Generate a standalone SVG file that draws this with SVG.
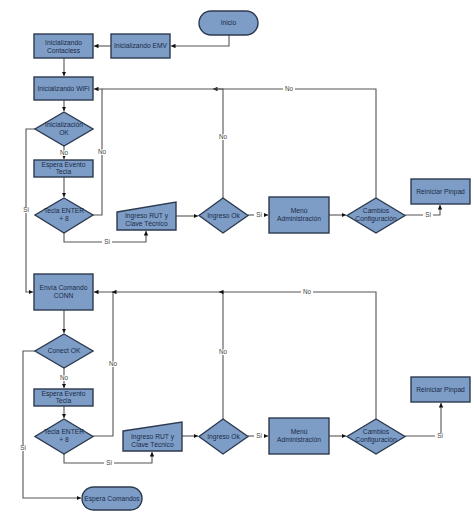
<svg xmlns="http://www.w3.org/2000/svg" width="474" height="518" viewBox="0 0 474 518">
<defs>
<marker id="arr" viewBox="0 0 8 8" refX="8" refY="4" markerWidth="4.5" markerHeight="4.5" orient="auto" markerUnits="userSpaceOnUse"><path d="M0,0 L8,4 L0,8 Z" fill="#111"/></marker>
<style>
.n{fill:#7d9dc6;stroke:#2c3a4f;stroke-width:1.4}
.t{font-family:"Liberation Sans",Arial,sans-serif;font-size:6.7px;fill:#1b2b48;text-anchor:middle}
.c{fill:none;stroke:#555;stroke-width:1.1}
.a{marker-end:url(#arr)}
.l{font-family:"Liberation Sans",Arial,sans-serif;font-size:6.3px;fill:#444;text-anchor:middle}
.lb{fill:#fff}
</style>
</defs>
<rect width="474" height="518" fill="#fff"/>

<g id="connectors">
<!-- top -->
<path class="c a" d="M229,35 V46 H171"/>
<path class="c a" d="M111,46 H94"/>
<path class="c a" d="M64,58 V76"/>
<path class="c a" d="M64,100 V111"/>
<path class="c a" d="M64,146 V159"/>
<path class="c a" d="M64,177 V197"/>
<path class="c a" d="M93,215 H102 V89 H94"/>
<path class="c a" d="M376,198 V89 H213"/>
<path class="c" d="M223,198 V89 H102"/>
<path class="c a" d="M35,129 H26 V292 H33"/>
<path class="c a" d="M64,233 V242 H146 V231"/>
<path class="c a" d="M176,216 H198"/>
<path class="c a" d="M248,215 H268"/>
<path class="c a" d="M329,215 H346"/>
<path class="c a" d="M405,215 H440 V205"/>
<!-- bottom -->
<path class="c a" d="M64,310 V333"/>
<path class="c a" d="M64,368 V388"/>
<path class="c a" d="M64,406 V418"/>
<path class="c a" d="M93,436 H113 V292 H94"/>
<path class="c a" d="M223,419 V292 H112"/>
<path class="c a" d="M376,419 V292 H219"/>
<path class="c a" d="M35,351 H23 V498 H81"/>
<path class="c a" d="M64,454 V463 H152 V452"/>
<path class="c a" d="M182,436 H198"/>
<path class="c a" d="M248,436 H268"/>
<path class="c a" d="M329,436 H346"/>
<path class="c a" d="M405,436 H441 V403"/>
<!-- labels -->
<rect class="lb" x="283" y="86" width="12" height="6"/><text class="l" x="289" y="91.2">No</text>
<rect class="lb" x="96" y="149" width="12" height="6"/><text class="l" x="102" y="154.2">No</text>
<rect class="lb" x="58" y="150" width="12" height="6"/><text class="l" x="64" y="155.2">No</text>
<rect class="lb" x="217" y="134" width="12" height="6"/><text class="l" x="223" y="139.2">No</text>
<rect class="lb" x="21" y="207" width="10" height="6"/><text class="l" x="26" y="212.2">Si</text>
<rect class="lb" x="102" y="239" width="10" height="6"/><text class="l" x="107" y="244.2">Si</text>
<rect class="lb" x="254" y="212" width="10" height="6"/><text class="l" x="259" y="217.2">Si</text>
<rect class="lb" x="423" y="212" width="10" height="6"/><text class="l" x="428" y="217.2">Si</text>
<rect class="lb" x="301" y="289" width="12" height="6"/><text class="l" x="307" y="294.2">No</text>
<rect class="lb" x="107" y="361" width="12" height="6"/><text class="l" x="113" y="366.2">No</text>
<rect class="lb" x="58" y="375" width="12" height="6"/><text class="l" x="64" y="380.2">No</text>
<rect class="lb" x="217" y="349" width="12" height="6"/><text class="l" x="223" y="354.2">No</text>
<rect class="lb" x="18" y="445" width="10" height="6"/><text class="l" x="23" y="450.2">Si</text>
<rect class="lb" x="104" y="460" width="10" height="6"/><text class="l" x="109" y="465.2">Si</text>
<rect class="lb" x="254" y="433" width="10" height="6"/><text class="l" x="259" y="438.2">Si</text>
<rect class="lb" x="435" y="433" width="10" height="6"/><text class="l" x="440" y="438.2">Si</text>
</g>

<g id="inicio"><rect class="n" x="199" y="11" width="59" height="24" rx="12"/><text class="t" x="228.5" y="25.4">Inicio</text></g>
<g id="emv"><rect class="n" x="111" y="34" width="59" height="24"/><text class="t" x="140.5" y="48.4">Inicializando EMV</text></g>
<g id="contacless"><rect class="n" x="34" y="34" width="59" height="24"/><text class="t" x="63.5" y="44.5">Inicializando</text><text class="t" x="63.5" y="52.5">Contacless</text></g>
<g id="wifi"><rect class="n" x="34" y="77" width="59" height="23"/><text class="t" x="63.5" y="90.9">Inicializando WiFi</text></g>
<g id="init-ok"><path class="n" d="M64,112 L93,129 L64,146 L35,129 Z"/><text class="t" x="64" y="126.6">Inicialización</text><text class="t" x="64" y="134.6">OK</text></g>
<g id="espera1"><rect class="n" x="34" y="160" width="59" height="17"/><text class="t" x="63.5" y="166.6">Espera Evento</text><text class="t" x="63.5" y="174.4">Tecla</text></g>
<g id="tecla1"><path class="n" d="M64,198 L93,215 L64,233 L35,215 Z"/><text class="t" x="64" y="213">Tecla ENTER</text><text class="t" x="64" y="221">+ 8</text></g>
<g id="rut1"><path class="n" d="M117,212 L176,202 L176,230 L117,230 Z"/><text class="t" x="146.5" y="218.4">Ingreso RUT y</text><text class="t" x="146.5" y="226.4">Clave Técnico</text></g>
<g id="ingok1"><path class="n" d="M223,198 L248,215.5 L223,233 L199,215.5 Z"/><text class="t" x="223.5" y="217.8">Ingreso Ok</text></g>
<g id="menu1"><rect class="n" x="269" y="197" width="60" height="36"/><text class="t" x="299" y="213">Menú</text><text class="t" x="299" y="221">Administración</text></g>
<g id="cambios1"><path class="n" d="M376,198 L405,215.5 L376,233 L347,215.5 Z"/><text class="t" x="376" y="213">Cambios</text><text class="t" x="376" y="221">Configuración</text></g>
<g id="reiniciar1"><rect class="n" x="411" y="179" width="59" height="25"/><text class="t" x="440.5" y="193.8">Reiniciar Pinpad</text></g>

<g id="conn"><rect class="n" x="34" y="274" width="59" height="36"/><text class="t" x="63.5" y="290">Envía Comando</text><text class="t" x="63.5" y="298">CONN</text></g>
<g id="conect-ok"><path class="n" d="M64,334 L93,351 L64,368 L35,351 Z"/><text class="t" x="64" y="353.4">Conect OK</text></g>
<g id="espera2"><rect class="n" x="34" y="389" width="59" height="17"/><text class="t" x="63.5" y="395.6">Espera Evento</text><text class="t" x="63.5" y="403.4">Tecla</text></g>
<g id="tecla2"><path class="n" d="M64,419 L93,436.5 L64,454 L35,436.5 Z"/><text class="t" x="64" y="434">Tecla ENTER</text><text class="t" x="64" y="442">+ 8</text></g>
<g id="rut2"><path class="n" d="M123,431 L182,422 L182,451 L123,451 Z"/><text class="t" x="152.5" y="438.6">Ingreso RUT y</text><text class="t" x="152.5" y="446.6">Clave Técnico</text></g>
<g id="ingok2"><path class="n" d="M223,419 L248,436.5 L223,454 L199,436.5 Z"/><text class="t" x="223.5" y="438.8">Ingreso Ok</text></g>
<g id="menu2"><rect class="n" x="269" y="418" width="60" height="36"/><text class="t" x="299" y="434">Menú</text><text class="t" x="299" y="442">Administración</text></g>
<g id="cambios2"><path class="n" d="M376,419 L405,436.5 L376,454 L347,436.5 Z"/><text class="t" x="376" y="434">Cambios</text><text class="t" x="376" y="442">Configuración</text></g>
<g id="reiniciar2"><rect class="n" x="411" y="377" width="59" height="25"/><text class="t" x="440.5" y="391.8">Reiniciar Pinpad</text></g>
<g id="espera-comandos"><rect class="n" x="82" y="487" width="60" height="23" rx="11.5"/><text class="t" x="112" y="500.8">Espera Comandos</text></g>
</svg>
